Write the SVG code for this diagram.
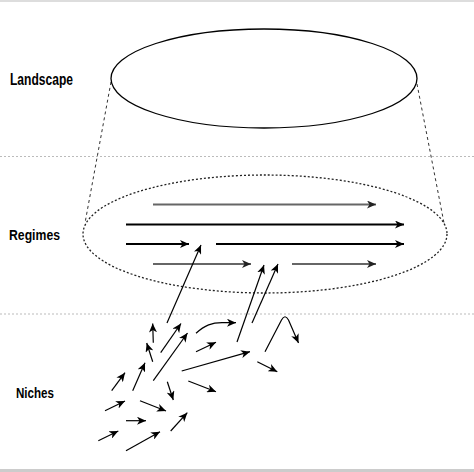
<svg xmlns="http://www.w3.org/2000/svg" width="474" height="472" viewBox="0 0 474 472">
<defs>
<marker id="ah" markerUnits="userSpaceOnUse" markerWidth="10" markerHeight="8" refX="9" refY="4" orient="auto">
<path d="M0,0 L9,4 L0,8 L2.5,4 z" fill="#000"/>
</marker>
<marker id="ahg" markerUnits="userSpaceOnUse" markerWidth="10" markerHeight="8" refX="9" refY="4" orient="auto">
<path d="M0,0 L9,4 L0,8 L2.5,4 z" fill="#222"/>
</marker>
</defs>
<style>
.lbl{font-family:"Liberation Sans",Arial,sans-serif;font-weight:bold;fill:#000}
.sep{stroke:#bbb;stroke-width:1.2;stroke-dasharray:2 2;fill:none}
.cone{stroke:#333;stroke-width:1;stroke-dasharray:3 3;fill:none}
.rb{stroke:#000;stroke-width:1.8;fill:none;marker-end:url(#ah)}
.rg{stroke:#666;stroke-width:1.8;fill:none;marker-end:url(#ahg)}
.na{stroke:#000;stroke-width:1.2;fill:none;marker-end:url(#ah)}
</style>
<rect x="0" y="0" width="474" height="472" fill="#fff"/>
<rect x="0" y="0" width="474" height="2" fill="#ddd"/>
<rect x="0" y="469" width="474" height="3" fill="#ccc"/>
<g id="separators">
<line class="sep" x1="0" y1="156.5" x2="474" y2="156.5"/>
<line class="sep" x1="0" y1="314" x2="474" y2="314"/>
</g>
<g id="cone">
<line class="cone" x1="111" y1="82" x2="85" y2="223"/>
<line class="cone" x1="417" y1="84" x2="444" y2="223"/>
</g>
<g id="landscape">
<ellipse cx="264" cy="78.5" rx="153" ry="49.5" fill="none" stroke="#000" stroke-width="1.3"/>
<text class="lbl" x="10" y="85" font-size="16.5" textLength="63" lengthAdjust="spacingAndGlyphs">Landscape</text>
</g>
<g id="regimes">
<ellipse cx="265" cy="234" rx="182" ry="59" fill="none" stroke="#222" stroke-width="1.3" stroke-dasharray="2 2"/>
<text class="lbl" x="9" y="240" font-size="15" textLength="51" lengthAdjust="spacingAndGlyphs">Regimes</text>
</g>
<g id="niches">
<text class="lbl" x="16" y="398" font-size="15" textLength="38" lengthAdjust="spacingAndGlyphs">Niches</text>
</g>
<g id="connectors">
<line class="rg" x1="153" y1="204.5" x2="376" y2="204.5"/>
<line class="rb" x1="126" y1="224.5" x2="404" y2="224.5"/>
<line class="rb" x1="126" y1="244" x2="189" y2="244"/>
<line class="rb" x1="216" y1="244" x2="404" y2="244"/>
<line class="rg" x1="153" y1="264" x2="251" y2="264"/>
<line class="rg" x1="292" y1="264" x2="376" y2="264"/>
<line class="na" x1="167" y1="323" x2="201" y2="245"/>
<line class="na" x1="237" y1="342" x2="264" y2="265"/>
<line class="na" x1="252" y1="323" x2="278" y2="264"/>
<line class="na" x1="153.3" y1="342.7" x2="152.7" y2="323.5"/>
<line class="na" x1="160.7" y1="352.7" x2="181" y2="323.5"/>
<line class="na" x1="152.7" y1="361.7" x2="146.7" y2="343"/>
<line class="na" x1="153.3" y1="380.7" x2="187.5" y2="333"/>
<path class="na" d="M196,333.3 C205,325 212,322.7 222,322.7 L236,322.7"/>
<line class="na" x1="196" y1="351.7" x2="216" y2="342.3"/>
<line class="na" x1="181.7" y1="371" x2="250" y2="351.7"/>
<path class="na" d="M265,351.7 L281.5,320 Q285,313.5 288.5,320 L298.5,343"/>
<line class="na" x1="257.3" y1="361.7" x2="277.3" y2="371.7"/>
<line class="na" x1="188.3" y1="381" x2="216" y2="391.7"/>
<line class="na" x1="167.3" y1="381.7" x2="173.3" y2="400"/>
<line class="na" x1="132.7" y1="390.7" x2="145" y2="362.7"/>
<line class="na" x1="111.7" y1="390.7" x2="125" y2="372.7"/>
<line class="na" x1="140" y1="400.7" x2="166" y2="411"/>
<line class="na" x1="105" y1="410.7" x2="125" y2="401"/>
<line class="na" x1="126" y1="420.7" x2="146" y2="420.7" stroke-width="1.8"/>
<line class="na" x1="170.7" y1="431" x2="187.3" y2="412.7"/>
<line class="na" x1="98.3" y1="440.7" x2="118.3" y2="431"/>
<line class="na" x1="126" y1="450.7" x2="160" y2="431.7"/>
</g>
</svg>
